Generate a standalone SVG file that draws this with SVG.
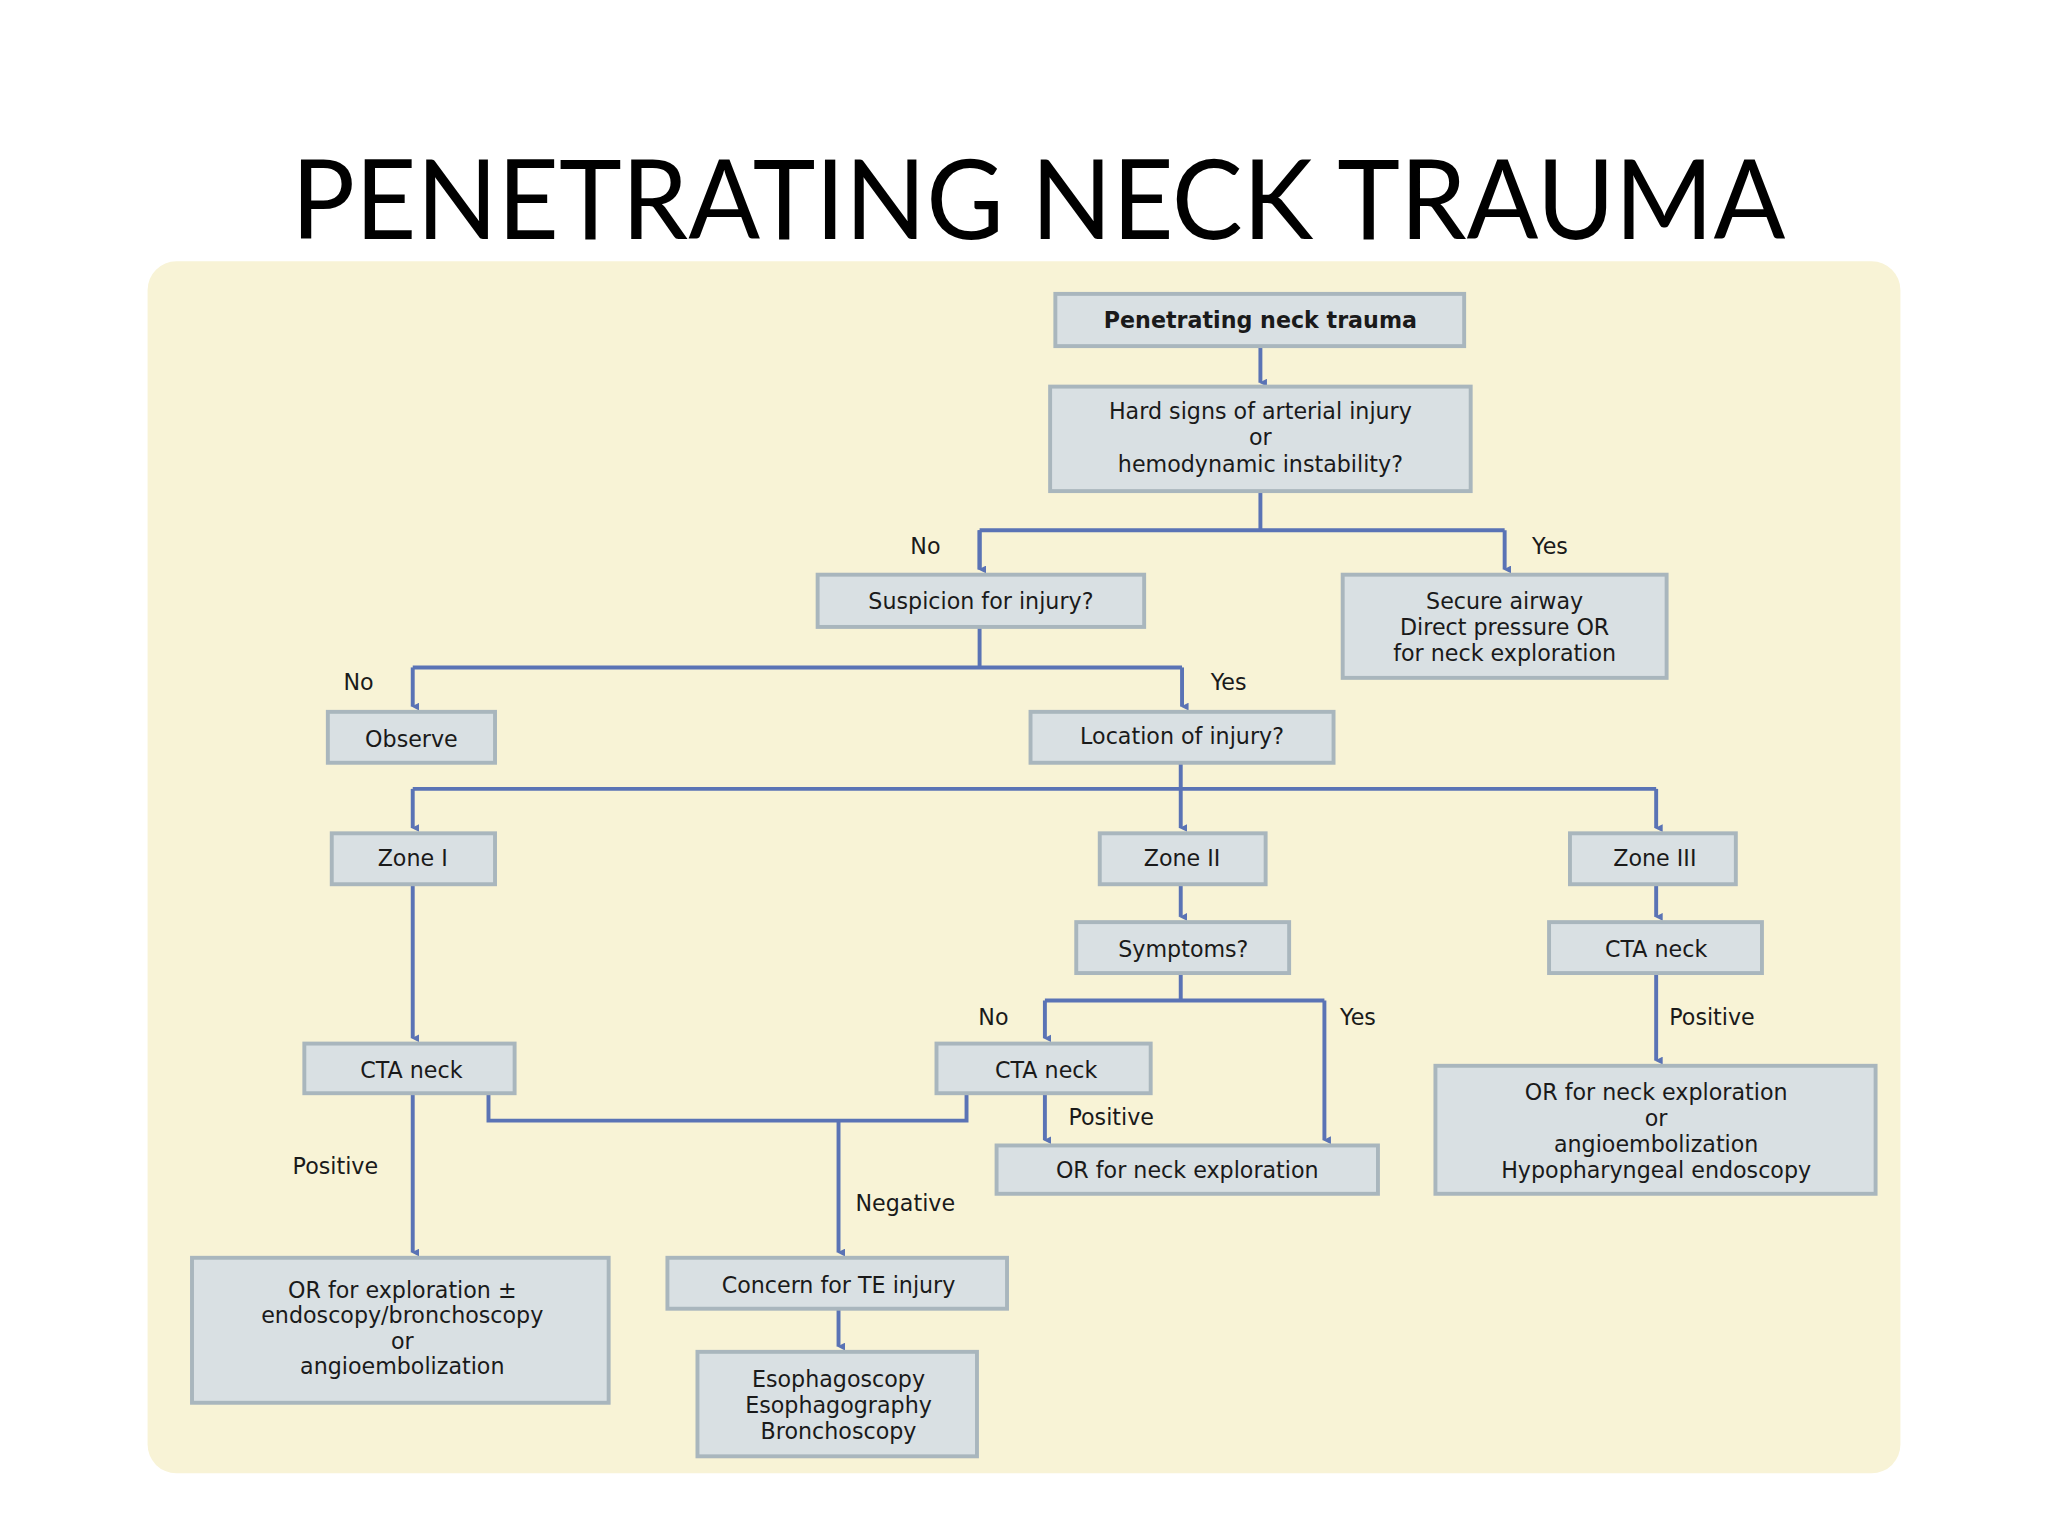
<svg xmlns="http://www.w3.org/2000/svg" width="2048" height="1536" viewBox="0 0 2048 1536">
<style>
.b{fill:#d9e0e3;stroke:#a9b6bd;stroke-width:3}
.t{font-family:"DejaVu Sans",sans-serif;font-size:17px;fill:#1a1a1a;text-anchor:middle}
.l{font-family:"DejaVu Sans",sans-serif;font-size:17px;fill:#1a1a1a}
.c{fill:none;stroke:#5a73b5;stroke-width:3}
</style>
<defs><marker id="a" markerWidth="6" markerHeight="6" refX="3" refY="5" orient="auto" markerUnits="userSpaceOnUse" viewBox="0 0 6 6"><path d="M0,0 L6,0 L3,6 z" fill="#5a73b5"/></marker></defs>
<rect width="2048" height="1536" fill="#fff"/>
<g transform="scale(1.30612)">
<text x="795" y="183" font-family="Lato,sans-serif" font-size="84" text-anchor="middle" textLength="1144" lengthAdjust="spacingAndGlyphs">PENETRATING NECK TRAUMA</text>
<rect x="113" y="200" width="1342" height="928" rx="22" fill="#f8f3d6"/>
<g id="connectors">
<path class="c" d="M965,265V293" marker-end="url(#a)"/>
<path class="c" d="M965,376V406"/>
<path class="c" d="M750,406H1152M750,406V436M1152,406V436" marker-end="url(#a)"/>
<path class="c" d="M750,406V436" marker-end="url(#a)"/>
<path class="c" d="M750,480V511M316,511H905"/>
<path class="c" d="M316,511V541" marker-end="url(#a)"/>
<path class="c" d="M905,511V541" marker-end="url(#a)"/>
<path class="c" d="M904,584V604M316,604H1268"/>
<path class="c" d="M316,604V634" marker-end="url(#a)"/>
<path class="c" d="M904,604V634" marker-end="url(#a)"/>
<path class="c" d="M1268,604V634" marker-end="url(#a)"/>
<path class="c" d="M904,677V702" marker-end="url(#a)"/>
<path class="c" d="M1268,677V702" marker-end="url(#a)"/>
<path class="c" d="M904,745V766M800,766H1014"/>
<path class="c" d="M800,766V795" marker-end="url(#a)"/>
<path class="c" d="M1014,766V873" marker-end="url(#a)"/>
<path class="c" d="M316,677V795" marker-end="url(#a)"/>
<path class="c" d="M316,837V959" marker-end="url(#a)"/>
<path class="c" d="M374,837V858H740V837"/>
<path class="c" d="M642,858V959" marker-end="url(#a)"/>
<path class="c" d="M800,837V873" marker-end="url(#a)"/>
<path class="c" d="M1268,745V812" marker-end="url(#a)"/>
<path class="c" d="M642,1002V1031" marker-end="url(#a)"/>
<text class="l" x="697" y="424">No</text>
<text class="l" x="1173" y="424">Yes</text>
<text class="l" x="263" y="528">No</text>
<text class="l" x="927" y="528">Yes</text>
<text class="l" x="749" y="785">No</text>
<text class="l" x="1026" y="785">Yes</text>
<text class="l" x="1278" y="785">Positive</text>
<text class="l" x="818" y="861">Positive</text>
<text class="l" x="224" y="899">Positive</text>
<text class="l" x="655" y="927">Negative</text>
</g>
<g id="n1"><rect class="b" x="808" y="225" width="313" height="40"/><text class="t" x="965" y="251" font-weight="bold">Penetrating neck trauma</text></g>
<g id="n2"><rect class="b" x="804" y="296" width="322" height="80"/><text class="t" x="965" y="321">Hard signs of arterial injury</text><text class="t" x="965" y="341">or</text><text class="t" x="965" y="361">hemodynamic instability?</text></g>
<g id="n3"><rect class="b" x="626" y="440" width="250" height="40"/><text class="t" x="751" y="466">Suspicion for injury?</text></g>
<g id="n4"><rect class="b" x="1028" y="440" width="248" height="79"/><text class="t" x="1152" y="466">Secure airway</text><text class="t" x="1152" y="486">Direct pressure OR</text><text class="t" x="1152" y="506">for neck exploration</text></g>
<g id="n5"><rect class="b" x="251" y="545" width="128" height="39"/><text class="t" x="315" y="572">Observe</text></g>
<g id="n6"><rect class="b" x="789" y="545" width="232" height="39"/><text class="t" x="905" y="570">Location of injury?</text></g>
<g id="n7"><rect class="b" x="254" y="638" width="125" height="39"/><text class="t" x="316" y="663">Zone I</text></g>
<g id="n8"><rect class="b" x="842" y="638" width="127" height="39"/><text class="t" x="905" y="663">Zone II</text></g>
<g id="n9"><rect class="b" x="1202" y="638" width="127" height="39"/><text class="t" x="1267" y="663">Zone III</text></g>
<g id="n10"><rect class="b" x="824" y="706" width="163" height="39"/><text class="t" x="906" y="733">Symptoms?</text></g>
<g id="n11"><rect class="b" x="1186" y="706" width="163" height="39"/><text class="t" x="1268" y="733">CTA neck</text></g>
<g id="n12"><rect class="b" x="233" y="799" width="161" height="38"/><text class="t" x="315" y="825">CTA neck</text></g>
<g id="n13"><rect class="b" x="717" y="799" width="164" height="38"/><text class="t" x="801" y="825">CTA neck</text></g>
<g id="n14"><rect class="b" x="763" y="877" width="292" height="37"/><text class="t" x="909" y="902">OR for neck exploration</text></g>
<g id="n15"><rect class="b" x="1099" y="816" width="337" height="98"/><text class="t" x="1268" y="842">OR for neck exploration</text><text class="t" x="1268" y="862">or</text><text class="t" x="1268" y="882">angioembolization</text><text class="t" x="1268" y="902">Hypopharyngeal endoscopy</text></g>
<g id="n16"><rect class="b" x="147" y="963" width="319" height="111"/><text class="t" x="308" y="994">OR for exploration ±</text><text class="t" x="308" y="1013">endoscopy/bronchoscopy</text><text class="t" x="308" y="1033">or</text><text class="t" x="308" y="1052">angioembolization</text></g>
<g id="n17"><rect class="b" x="511" y="963" width="260" height="39"/><text class="t" x="642" y="990">Concern for TE injury</text></g>
<g id="n18"><rect class="b" x="534" y="1035" width="214" height="80"/><text class="t" x="642" y="1062">Esophagoscopy</text><text class="t" x="642" y="1082">Esophagography</text><text class="t" x="642" y="1102">Bronchoscopy</text></g>
</g>
</svg>
